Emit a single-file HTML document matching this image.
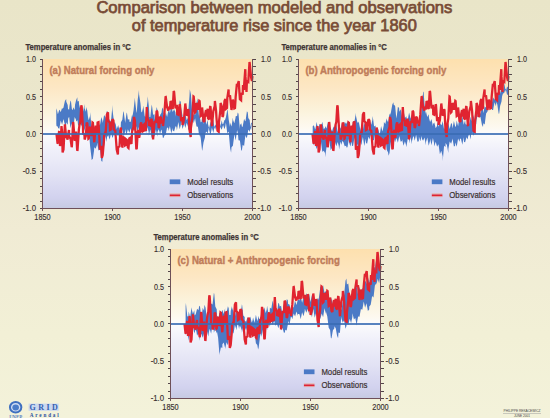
<!DOCTYPE html><html><head><meta charset="utf-8"><style>html,body{margin:0;padding:0;background:#ede9d0;width:550px;height:418px;overflow:hidden}svg{display:block}text{font-family:"Liberation Sans", sans-serif}</style></head><body>
<svg width="550" height="418" viewBox="0 0 550 418">
<defs>
<linearGradient id="bg" x1="0" y1="0" x2="0" y2="1">
<stop offset="0" stop-color="#e9e5c8"/><stop offset="0.3" stop-color="#ebe7cd"/><stop offset="0.55" stop-color="#f0ebd4"/><stop offset="0.8" stop-color="#f2f0d6"/><stop offset="1" stop-color="#f3f2da"/>
</linearGradient>
<linearGradient id="pg" x1="0" y1="0" x2="0" y2="1">
<stop offset="0" stop-color="#fde0ae"/><stop offset="0.19" stop-color="#fde7c4"/><stop offset="0.35" stop-color="#fbf3dc"/><stop offset="0.46" stop-color="#fdf9f0"/><stop offset="0.5" stop-color="#fbfbfc"/><stop offset="0.61" stop-color="#f0f0fa"/><stop offset="0.78" stop-color="#e2e2f4"/><stop offset="0.89" stop-color="#d6d6f0"/><stop offset="0.93" stop-color="#d2d2ee"/><stop offset="1" stop-color="#c6cae2"/>
</linearGradient>
</defs>
<rect width="550" height="418" fill="url(#bg)"/>
<g font-size="16.4" font-weight="normal" fill="#6e4636" stroke="#7e5038" stroke-width="0.75">
<text x="96.4" y="12.5" textLength="356" lengthAdjust="spacingAndGlyphs">Comparison between modeled and observations</text>
<text x="131.8" y="31" textLength="285" lengthAdjust="spacingAndGlyphs">of temperature rise since the year 1860</text>
</g>

<rect x="43" y="59" width="209" height="149" fill="url(#pg)"/>
<polygon points="56.30,110.60 56.50,108.13 57.90,114.26 59.30,109.76 60.00,110.60 60.70,112.18 62.10,107.84 62.50,109.00 63.50,107.54 64.00,105.00 64.90,100.98 66.20,99.00 66.30,101.75 67.70,104.94 68.00,109.00 69.10,109.75 69.50,106.00 70.50,100.58 71.00,101.60 71.90,109.33 72.80,110.00 73.30,107.22 74.70,109.96 75.00,105.00 76.10,100.32 77.30,97.20 77.50,101.47 78.90,101.12 79.00,104.00 80.30,109.41 81.70,107.56 82.60,110.60 83.10,111.53 84.50,104.02 84.50,108.00 85.90,111.86 86.30,107.00 87.30,110.81 88.00,117.00 88.70,120.20 90.00,116.00 90.10,112.12 91.50,126.23 92.50,125.80 92.90,125.43 94.30,130.39 95.20,131.20 95.70,128.69 97.10,131.68 98.50,123.37 98.80,124.00 99.90,125.42 101.30,116.97 102.40,120.50 102.70,123.08 104.10,114.96 105.40,117.00 105.50,118.90 106.90,110.82 108.00,112.40 108.30,118.03 109.70,120.08 109.90,122.00 111.10,120.10 112.50,104.98 112.50,109.70 113.90,120.89 115.20,124.00 115.30,122.13 116.70,129.05 117.90,126.00 118.10,124.94 119.50,130.08 120.60,128.50 120.90,122.21 122.30,119.79 123.30,111.50 123.70,111.87 125.10,122.00 125.10,123.35 126.50,113.62 126.90,112.40 127.90,119.46 129.30,119.26 129.60,122.00 130.70,121.84 132.10,114.60 132.30,117.00 133.50,110.45 134.90,97.44 135.00,99.90 136.30,111.33 136.70,113.00 137.70,99.85 139.00,90.00 139.10,94.56 140.50,103.42 141.20,111.50 141.90,112.60 143.00,108.00 143.30,105.44 144.70,116.13 145.70,117.00 146.10,111.82 147.50,101.31 147.70,96.30 148.90,106.66 149.50,117.00 150.30,116.93 151.70,104.39 152.20,107.10 153.10,114.70 154.50,114.13 154.80,120.00 155.90,113.50 156.60,107.10 157.30,109.32 158.70,121.92 159.30,121.00 160.10,115.02 161.50,112.63 162.00,108.90 162.90,107.46 164.30,118.86 164.70,118.00 165.70,112.27 167.10,117.02 168.30,111.00 168.50,106.58 169.90,113.35 171.30,105.47 171.90,108.90 172.70,111.91 174.10,109.20 175.50,112.50 175.50,116.85 176.90,107.13 178.30,111.42 179.70,100.50 180.80,101.70 181.10,107.66 182.50,115.62 182.60,117.80 183.90,121.39 185.00,116.00 185.30,113.58 186.70,120.13 188.00,117.80 188.10,113.77 189.50,95.74 189.80,89.20 190.90,94.33 192.30,113.90 192.90,116.00 193.70,113.61 195.10,115.02 195.70,110.60 196.50,102.88 197.50,98.00 197.90,105.71 199.00,116.00 199.30,112.41 200.70,122.32 201.50,122.00 202.10,117.30 203.50,121.00 203.50,124.28 204.90,117.76 205.30,118.00 206.30,124.71 207.70,119.79 208.00,124.00 209.10,128.47 210.50,121.86 211.90,124.40 212.00,123.00 213.30,119.85 214.70,129.36 214.90,126.00 216.10,123.95 217.50,127.75 218.70,123.00 218.90,119.26 220.30,127.88 221.70,120.16 222.50,124.00 223.10,124.37 224.50,119.88 225.00,120.00 225.90,117.34 227.30,109.85 227.60,109.60 228.70,119.38 230.00,127.00 230.10,122.56 231.50,126.57 232.90,117.44 233.10,120.00 234.30,123.14 235.50,118.00 235.70,116.17 237.10,115.93 237.70,112.50 238.50,113.71 239.90,129.10 240.00,125.00 241.30,123.26 242.00,127.00 242.70,126.51 244.10,118.82 245.00,121.00 245.50,121.24 246.90,111.23 247.80,112.50 248.30,117.92 249.70,119.89 250.50,129.00 251.10,130.07 252.50,116.98 252.50,120.00 252.50,128.17 252.50,125.00 251.10,122.60 249.70,131.89 249.00,130.50 248.30,129.83 246.90,138.29 245.50,136.00 245.50,133.93 244.10,145.98 242.70,144.85 241.90,150.30 241.30,150.82 239.90,140.61 238.50,140.24 237.90,133.60 237.10,129.88 235.70,140.39 234.30,134.11 234.00,137.40 232.90,145.80 231.50,147.21 231.10,152.70 230.10,147.99 228.70,131.92 228.30,131.70 227.30,133.41 225.90,122.53 225.40,126.00 224.50,129.21 223.10,124.90 221.70,129.86 220.60,127.80 220.30,123.25 218.90,129.93 217.50,122.26 216.80,126.00 216.10,130.35 214.70,125.74 213.30,133.15 213.00,131.70 211.90,127.87 210.50,135.14 209.10,129.80 209.10,126.18 207.70,133.39 206.30,131.42 205.30,133.60 204.90,137.87 203.50,142.52 202.40,149.90 202.10,150.71 200.70,137.98 199.60,133.60 199.30,136.86 197.90,126.85 196.50,126.47 195.70,122.00 195.10,118.26 193.70,123.26 192.30,115.26 192.00,118.00 190.90,136.67 190.70,137.60 189.50,130.24 188.10,129.35 188.00,126.80 186.70,122.72 185.30,127.92 183.90,122.50 183.50,126.00 182.50,129.01 181.10,120.84 180.80,125.00 179.70,129.17 178.30,121.92 176.90,130.55 176.40,126.80 175.50,126.20 174.10,131.38 172.80,130.40 172.70,127.88 171.30,133.54 169.90,125.96 168.50,131.29 168.30,128.60 167.10,127.18 165.70,134.72 164.30,135.47 163.80,137.60 162.90,137.93 161.50,129.41 161.00,130.40 160.10,134.05 158.70,129.30 157.50,132.00 157.30,136.73 155.90,129.62 154.50,136.68 153.10,131.12 153.00,135.80 151.70,138.03 150.30,129.45 148.90,135.66 148.60,132.00 147.50,126.94 146.10,133.22 145.00,128.00 144.70,125.87 143.30,131.09 141.90,124.74 140.50,133.52 140.00,130.00 139.10,126.41 137.70,132.02 136.30,126.14 135.00,130.00 134.90,130.94 133.50,129.21 132.10,134.29 130.70,128.31 130.00,131.00 129.30,132.64 127.90,129.16 126.50,134.95 125.10,128.94 125.00,132.00 123.70,136.73 122.30,129.23 120.90,138.40 120.00,135.00 119.50,133.12 118.10,136.50 116.70,133.57 115.30,137.05 115.00,136.00 113.90,134.17 112.50,138.09 111.10,133.60 110.00,138.00 109.70,139.68 108.30,135.27 107.00,137.00 106.90,141.94 105.50,135.94 104.10,146.77 104.00,144.00 102.70,155.18 102.40,161.70 101.30,160.92 99.90,147.45 99.50,150.00 98.50,150.41 97.10,142.48 97.00,145.00 95.70,148.66 94.30,147.21 94.00,151.00 92.90,158.71 91.60,159.90 91.50,157.74 90.10,146.25 89.60,140.00 88.70,134.91 87.50,133.00 87.30,134.79 85.90,125.75 85.00,128.00 84.50,131.15 83.10,124.01 82.00,124.00 81.70,126.16 80.30,123.13 78.90,125.70 78.00,125.00 77.50,120.36 76.10,121.45 76.00,119.70 74.70,116.93 73.30,127.01 73.00,123.00 71.90,123.38 71.00,126.00 70.50,128.34 69.10,116.67 68.20,118.40 67.70,124.66 66.30,122.21 66.00,126.00 64.90,125.06 63.50,119.09 63.00,121.00 62.10,124.69 60.70,120.38 60.00,125.00 59.30,128.71 58.00,128.00 57.90,126.85 56.50,126.02 56.30,124.00" fill="#4b7ac6"/>
<polyline points="56.50,134.00 57.50,143.00 57.90,143.48 59.00,132.00 59.30,132.08 60.00,146.00 60.70,142.24 61.50,126.00 62.10,132.36 62.60,152.50 63.50,149.62 64.90,124.40 66.30,138.12 66.50,136.00 67.60,139.80 67.70,136.56 69.00,130.00 69.10,135.91 70.00,138.00 70.50,138.25 71.70,147.00 71.90,146.58 73.10,122.10 73.30,122.78 74.70,140.64 75.00,140.00 76.00,132.00 76.10,131.50 77.20,150.70 77.50,150.25 78.90,129.35 79.50,125.00 80.30,122.13 81.30,105.30 81.70,106.73 83.00,128.00 83.10,133.66 84.50,134.71 84.60,139.50 85.90,135.81 86.70,122.60 87.30,123.40 88.40,138.60 88.70,138.35 90.00,127.00 90.10,126.82 91.50,136.00 92.50,122.60 92.90,122.92 94.20,141.90 94.30,142.11 95.70,125.56 96.00,128.00 97.10,132.67 97.60,122.60 98.50,122.20 99.50,140.00 99.90,149.77 101.30,145.93 101.80,158.00 102.70,154.93 104.00,140.00 104.10,134.77 105.50,132.00 105.50,134.81 106.90,114.51 108.00,112.40 108.30,120.92 109.70,122.77 110.00,130.00 111.10,129.29 111.50,124.00 112.50,119.15 113.40,120.50 113.90,129.55 115.30,130.77 116.00,140.00 116.70,149.47 117.90,154.50 118.10,147.29 119.50,146.44 120.60,127.60 120.90,128.40 122.30,147.46 122.40,147.30 123.70,137.51 124.50,138.00 125.10,145.30 125.50,145.00 126.50,139.60 127.00,140.00 127.90,147.40 128.50,148.00 129.30,138.47 130.00,138.00 130.70,143.11 131.50,143.00 132.10,131.34 133.50,126.71 134.00,116.90 134.90,120.76 136.30,148.63 136.70,149.10 137.70,131.73 138.50,130.00 139.10,137.87 139.50,136.00 140.50,124.30 141.20,122.30 141.90,132.29 143.00,131.00 143.30,125.16 144.50,124.00 144.70,130.43 146.00,130.00 146.10,122.79 146.80,107.10 147.50,117.93 148.90,121.58 149.00,125.00 150.30,125.55 151.00,120.00 151.70,118.84 153.10,139.30 154.50,121.10 155.90,122.91 156.60,110.70 157.30,111.86 158.70,128.01 159.30,126.80 160.10,116.52 161.00,118.00 161.50,122.64 162.90,122.92 163.00,126.00 164.30,114.66 165.60,96.30 165.70,96.42 167.10,107.16 168.30,110.70 168.50,106.86 169.90,109.53 170.50,102.00 171.30,101.76 172.00,108.00 172.70,108.83 173.70,91.00 174.10,91.89 175.50,108.42 176.90,104.84 177.30,114.30 178.30,114.80 179.70,104.33 180.00,105.00 181.10,121.20 182.50,117.24 182.60,125.00 183.90,120.02 185.30,103.50 186.70,115.68 187.00,115.00 188.10,109.19 188.50,110.00 189.50,129.86 190.70,137.00 190.90,127.72 192.30,118.47 193.50,96.50 193.70,96.65 195.10,112.40 195.50,112.00 196.50,103.20 197.00,104.00 197.90,109.95 199.30,100.78 199.60,101.00 200.70,116.03 202.00,115.00 202.10,107.48 203.50,120.99 204.40,122.00 204.90,115.46 206.00,110.00 206.30,116.63 207.70,108.67 208.00,118.00 209.10,119.53 210.10,106.80 210.50,106.32 211.90,125.80 212.00,126.00 213.30,111.15 214.70,106.09 214.90,101.00 216.10,111.06 216.50,118.00 217.50,130.68 218.70,131.70 218.90,122.25 220.30,110.68 220.60,103.00 221.70,106.17 222.50,117.00 223.10,115.80 224.50,101.07 225.40,99.10 225.90,108.90 227.00,108.00 227.30,98.03 228.60,89.50 228.70,95.57 230.10,96.09 231.50,110.00 232.90,99.76 233.00,100.00 234.30,108.40 235.00,108.00 235.70,96.42 236.90,83.80 237.10,86.41 238.50,81.76 238.70,81.10 239.90,99.23 241.10,100.30 241.30,92.92 242.70,94.62 243.00,85.00 244.00,90.00 244.10,85.08 245.30,69.20 245.50,76.90 246.50,91.90 246.90,81.15 248.30,82.07 249.50,62.00 249.70,62.93 251.10,77.36 251.90,81.10 252.50,76.00" fill="none" stroke="#e02430" stroke-width="2.3" stroke-linejoin="miter" stroke-miterlimit="2.5"/>
<rect x="43" y="133" width="209" height="2" fill="#3a6cb4" opacity="0.85"/>
<rect x="42" y="59" width="1" height="152" fill="#6e5058"/>
<rect x="252" y="59" width="1" height="152" fill="#6e5058"/>
<rect x="40" y="208" width="213" height="1" fill="#6e5058"/>
<rect x="40" y="59" width="2" height="1" fill="#54464a"/>
<rect x="253" y="59" width="3" height="1" fill="#54464a"/>
<rect x="40" y="66" width="2" height="1" fill="#54464a"/>
<rect x="253" y="66" width="3" height="1" fill="#54464a"/>
<rect x="40" y="74" width="2" height="1" fill="#54464a"/>
<rect x="253" y="74" width="3" height="1" fill="#54464a"/>
<rect x="40" y="81" width="2" height="1" fill="#54464a"/>
<rect x="253" y="81" width="3" height="1" fill="#54464a"/>
<rect x="40" y="89" width="2" height="1" fill="#54464a"/>
<rect x="253" y="89" width="3" height="1" fill="#54464a"/>
<rect x="40" y="96" width="2" height="1" fill="#54464a"/>
<rect x="253" y="96" width="3" height="1" fill="#54464a"/>
<rect x="40" y="104" width="2" height="1" fill="#54464a"/>
<rect x="253" y="104" width="3" height="1" fill="#54464a"/>
<rect x="40" y="111" width="2" height="1" fill="#54464a"/>
<rect x="253" y="111" width="3" height="1" fill="#54464a"/>
<rect x="40" y="119" width="2" height="1" fill="#54464a"/>
<rect x="253" y="119" width="3" height="1" fill="#54464a"/>
<rect x="40" y="126" width="2" height="1" fill="#54464a"/>
<rect x="253" y="126" width="3" height="1" fill="#54464a"/>
<rect x="40" y="133" width="2" height="1" fill="#54464a"/>
<rect x="253" y="133" width="3" height="1" fill="#54464a"/>
<rect x="40" y="141" width="2" height="1" fill="#54464a"/>
<rect x="253" y="141" width="3" height="1" fill="#54464a"/>
<rect x="40" y="148" width="2" height="1" fill="#54464a"/>
<rect x="253" y="148" width="3" height="1" fill="#54464a"/>
<rect x="40" y="156" width="2" height="1" fill="#54464a"/>
<rect x="253" y="156" width="3" height="1" fill="#54464a"/>
<rect x="40" y="163" width="2" height="1" fill="#54464a"/>
<rect x="253" y="163" width="3" height="1" fill="#54464a"/>
<rect x="40" y="171" width="2" height="1" fill="#54464a"/>
<rect x="253" y="171" width="3" height="1" fill="#54464a"/>
<rect x="40" y="178" width="2" height="1" fill="#54464a"/>
<rect x="253" y="178" width="3" height="1" fill="#54464a"/>
<rect x="40" y="186" width="2" height="1" fill="#54464a"/>
<rect x="253" y="186" width="3" height="1" fill="#54464a"/>
<rect x="40" y="193" width="2" height="1" fill="#54464a"/>
<rect x="253" y="193" width="3" height="1" fill="#54464a"/>
<rect x="40" y="201" width="2" height="1" fill="#54464a"/>
<rect x="253" y="201" width="3" height="1" fill="#54464a"/>
<rect x="40" y="208" width="2" height="1" fill="#54464a"/>
<rect x="253" y="208" width="3" height="1" fill="#54464a"/>
<text x="36.1" y="62.4" text-anchor="end" font-size="8.9" fill="#3a3030" stroke="#3a3030" stroke-width="0.15" textLength="10.0" lengthAdjust="spacingAndGlyphs">1.0</text>
<text x="271" y="62.4" text-anchor="end" font-size="8.9" fill="#3a3030" stroke="#3a3030" stroke-width="0.15" textLength="10.0" lengthAdjust="spacingAndGlyphs">1.0</text>
<text x="36.1" y="99.7" text-anchor="end" font-size="8.9" fill="#3a3030" stroke="#3a3030" stroke-width="0.15" textLength="10.0" lengthAdjust="spacingAndGlyphs">0.5</text>
<text x="271" y="99.7" text-anchor="end" font-size="8.9" fill="#3a3030" stroke="#3a3030" stroke-width="0.15" textLength="10.0" lengthAdjust="spacingAndGlyphs">0.5</text>
<text x="36.1" y="136.9" text-anchor="end" font-size="8.9" fill="#3a3030" stroke="#3a3030" stroke-width="0.15" textLength="10.0" lengthAdjust="spacingAndGlyphs">0.0</text>
<text x="271" y="136.9" text-anchor="end" font-size="8.9" fill="#3a3030" stroke="#3a3030" stroke-width="0.15" textLength="10.0" lengthAdjust="spacingAndGlyphs">0.0</text>
<text x="36.1" y="174.2" text-anchor="end" font-size="8.9" fill="#3a3030" stroke="#3a3030" stroke-width="0.15" textLength="13.4" lengthAdjust="spacingAndGlyphs">-0.5</text>
<text x="271" y="174.2" text-anchor="end" font-size="8.9" fill="#3a3030" stroke="#3a3030" stroke-width="0.15" textLength="13.4" lengthAdjust="spacingAndGlyphs">-0.5</text>
<text x="36.1" y="211.4" text-anchor="end" font-size="8.9" fill="#3a3030" stroke="#3a3030" stroke-width="0.15" textLength="13.4" lengthAdjust="spacingAndGlyphs">-1.0</text>
<text x="271" y="211.4" text-anchor="end" font-size="8.9" fill="#3a3030" stroke="#3a3030" stroke-width="0.15" textLength="13.4" lengthAdjust="spacingAndGlyphs">-1.0</text>
<rect x="42" y="209" width="1" height="2" fill="#6e5058"/>
<text x="42.5" y="219.8" text-anchor="middle" font-size="8.9" fill="#3a3030" stroke="#3a3030" stroke-width="0.15" textLength="16.4" lengthAdjust="spacingAndGlyphs">1850</text>
<rect x="112" y="209" width="1" height="2" fill="#6e5058"/>
<text x="112.5" y="219.8" text-anchor="middle" font-size="8.9" fill="#3a3030" stroke="#3a3030" stroke-width="0.15" textLength="16.4" lengthAdjust="spacingAndGlyphs">1900</text>
<rect x="182" y="209" width="1" height="2" fill="#6e5058"/>
<text x="182.5" y="219.8" text-anchor="middle" font-size="8.9" fill="#3a3030" stroke="#3a3030" stroke-width="0.15" textLength="16.4" lengthAdjust="spacingAndGlyphs">1950</text>
<rect x="252" y="209" width="1" height="2" fill="#6e5058"/>
<text x="252.5" y="219.8" text-anchor="middle" font-size="8.9" fill="#3a3030" stroke="#3a3030" stroke-width="0.15" textLength="16.4" lengthAdjust="spacingAndGlyphs">2000</text>
<text x="25.4" y="49.8" font-size="8.7" font-weight="bold" fill="#3e3434" stroke="#3e3434" stroke-width="0.25" textLength="105.5" lengthAdjust="spacingAndGlyphs">Temperature anomalies in °C</text>
<text x="49.4" y="73.5" font-size="10.5" font-weight="bold" fill="#c07c5a" stroke="#c07c5a" stroke-width="0.4" textLength="105" lengthAdjust="spacingAndGlyphs">(a) Natural forcing only</text>
<rect x="169.7" y="179.4" width="10.6" height="4.8" fill="#4b7ac6"/>
<rect x="169.7" y="194.4" width="10.6" height="2.0" fill="#e02430"/>
<rect x="169.7" y="193.0" width="10.6" height="1" fill="#f0a890" opacity="0.5"/>
<rect x="169.7" y="196.20000000000002" width="10.6" height="1" fill="#f0b8a8" opacity="0.5"/>
<text x="187.2" y="184.8" font-size="9.4" fill="#3a3030" stroke="#3a3030" stroke-width="0.2" textLength="46" lengthAdjust="spacingAndGlyphs">Model results</text>
<text x="187.2" y="198.1" font-size="9.4" fill="#3a3030" stroke="#3a3030" stroke-width="0.2" textLength="46" lengthAdjust="spacingAndGlyphs">Observations</text>
<rect x="299" y="59" width="209" height="149" fill="url(#pg)"/>
<polygon points="312.70,126.30 313.90,125.16 315.00,129.00 315.30,129.19 316.70,121.76 317.00,124.00 318.10,128.20 319.00,127.00 319.50,123.85 320.90,126.60 322.00,123.00 322.30,121.86 323.70,129.10 325.00,128.00 325.10,125.89 326.50,128.39 327.90,121.83 328.00,125.00 329.30,129.65 330.70,127.23 331.00,129.00 332.10,131.30 333.50,126.19 334.90,130.97 335.00,127.00 336.30,124.11 337.70,132.48 338.00,130.00 339.10,124.74 340.50,128.65 341.00,127.00 341.90,123.58 343.30,126.56 344.00,125.00 344.70,121.78 346.10,124.12 347.30,121.70 347.50,120.83 348.90,128.61 350.00,128.00 350.30,125.77 351.70,126.43 353.00,123.00 353.10,121.03 354.50,121.28 355.90,112.73 355.90,115.40 357.30,122.10 358.00,123.00 358.70,121.40 360.00,128.00 360.10,130.73 361.50,125.18 362.00,128.00 362.90,129.68 364.30,122.32 365.70,128.34 366.00,125.00 367.10,124.26 368.50,130.25 369.00,127.00 369.90,120.37 371.30,124.66 372.40,119.40 372.70,115.96 374.10,126.58 375.50,125.46 376.00,130.00 376.90,133.12 378.30,128.98 379.00,132.00 379.70,134.89 381.10,126.09 382.50,131.62 383.80,125.20 383.90,122.06 385.30,123.92 386.70,118.21 387.00,120.00 388.10,122.34 389.50,113.40 390.00,115.00 390.90,112.56 392.30,104.53 393.40,102.20 393.70,104.78 395.10,105.83 396.00,115.00 396.50,118.52 397.90,106.73 399.10,108.00 399.30,111.82 400.70,109.13 402.00,117.00 402.10,118.30 403.50,112.01 404.00,113.00 404.90,117.99 406.30,116.13 407.00,120.00 407.70,120.09 409.10,112.51 410.00,116.00 410.50,118.86 411.90,114.28 413.30,120.01 414.00,118.30 414.70,117.44 416.10,123.65 417.50,119.19 418.00,124.00 418.90,125.33 420.30,115.54 421.00,116.00 421.70,110.29 423.10,92.25 423.60,91.50 424.50,104.05 425.50,114.00 425.90,111.33 427.30,117.00 428.70,114.22 429.00,118.00 430.10,122.01 431.50,118.96 432.90,126.32 433.00,124.00 434.30,122.43 435.70,128.35 437.00,126.00 437.10,121.31 438.50,126.68 439.90,122.77 441.30,125.28 442.00,124.00 442.70,120.97 444.10,129.52 445.50,125.82 446.00,128.00 446.90,129.87 448.30,123.10 449.70,128.97 451.10,123.09 452.00,124.00 452.50,128.55 453.90,121.06 455.30,127.02 456.00,126.00 456.70,120.60 458.10,126.30 459.50,116.24 460.90,120.86 461.80,116.40 462.30,115.72 463.70,124.74 465.10,120.02 465.50,124.00 466.50,125.05 467.90,119.38 469.00,120.00 469.30,124.30 470.70,116.83 472.10,121.72 473.50,114.97 474.00,118.00 474.90,121.00 476.30,111.96 477.70,115.09 479.00,112.00 479.10,108.79 480.50,114.01 481.90,107.56 483.00,110.00 483.30,113.22 484.70,106.16 486.10,107.85 487.50,103.33 488.00,104.00 488.90,105.11 490.30,101.08 491.70,104.02 492.50,100.00 493.10,97.49 494.50,99.86 495.90,95.87 496.00,97.00 497.30,97.33 498.70,91.94 500.00,92.00 500.10,93.83 501.50,87.32 502.90,91.15 504.00,86.70 504.30,82.63 505.70,91.91 507.10,86.56 508.50,88.00 508.50,89.75 508.50,96.00 508.50,93.92 507.10,94.97 505.70,88.42 505.00,90.50 504.30,92.78 502.90,93.83 502.10,96.30 501.50,101.39 500.10,106.01 499.20,113.50 498.70,113.68 497.30,104.59 496.40,102.00 495.90,106.33 494.50,102.16 493.10,109.98 492.00,110.00 491.70,106.41 490.30,109.17 488.90,101.57 488.70,105.80 487.50,111.51 486.10,113.59 484.70,124.53 483.30,123.37 483.00,126.90 481.90,124.71 480.50,116.94 479.10,117.39 479.10,113.50 477.70,114.85 476.50,120.00 476.30,124.05 474.90,126.22 474.40,132.60 473.50,135.72 472.10,132.59 471.00,135.00 470.70,139.51 469.30,133.71 468.00,137.00 467.90,139.44 466.50,137.21 465.10,142.23 464.00,142.00 463.70,137.36 462.30,144.70 460.90,138.56 460.00,139.00 459.50,141.76 458.10,138.47 456.70,146.85 455.30,142.40 455.00,146.00 453.90,146.52 452.50,138.47 452.00,141.00 451.10,143.84 449.70,141.60 448.40,148.90 448.30,153.06 446.90,144.89 445.60,143.00 445.50,147.01 444.10,145.83 442.70,161.15 442.70,156.60 441.30,150.71 439.90,154.28 438.50,144.25 438.00,145.00 437.10,146.64 435.70,141.75 434.30,146.42 434.00,143.00 432.90,137.99 431.50,145.22 430.10,138.46 430.00,141.00 428.70,145.86 427.30,137.45 426.00,142.00 425.90,145.26 424.50,137.43 423.10,140.79 422.00,139.00 421.70,136.03 420.30,141.30 418.90,136.59 418.80,141.20 417.50,141.83 416.10,134.74 414.70,140.68 414.00,137.40 413.30,136.08 412.00,141.00 411.90,144.14 410.50,136.79 409.10,143.41 409.00,139.00 407.70,138.95 406.30,147.23 406.00,145.00 404.90,141.13 403.50,145.86 402.10,139.17 402.00,141.00 400.70,141.85 399.30,136.11 397.90,142.72 396.50,138.14 396.00,139.00 395.10,142.19 393.70,137.95 392.30,143.02 391.00,143.00 390.90,141.83 389.50,153.02 388.60,155.80 388.10,152.39 386.70,149.78 386.00,143.00 385.30,138.82 383.90,142.77 383.00,141.00 382.50,139.65 381.10,142.24 379.70,136.22 379.00,138.00 378.30,140.94 376.90,136.34 375.50,141.88 374.10,135.35 374.00,140.00 372.70,140.56 371.30,133.23 370.00,137.00 369.90,139.56 368.50,136.64 367.10,143.78 366.00,143.00 365.70,138.78 364.30,146.00 362.90,136.88 362.00,141.00 361.50,145.19 360.10,139.75 358.70,149.09 358.00,148.20 357.30,144.16 355.90,146.05 355.00,140.00 354.50,137.29 353.10,145.78 352.00,146.00 351.70,141.56 350.30,146.42 349.00,142.00 348.90,138.75 347.50,147.35 346.50,147.50 346.10,145.63 344.70,146.27 343.30,141.96 342.00,141.00 341.90,144.99 340.50,141.87 339.10,149.38 338.80,146.00 337.70,142.10 336.30,146.37 335.00,142.00 334.90,139.32 333.50,145.85 332.10,143.62 332.00,148.00 330.70,150.37 329.30,140.28 329.00,143.00 327.90,147.27 327.10,147.00 326.50,147.34 325.10,157.31 325.00,153.00 323.70,150.80 323.20,151.30 322.30,151.87 321.00,142.00 320.90,137.91 319.50,148.19 319.30,148.00 318.10,144.70 316.70,149.08 316.00,147.00 315.30,142.20 313.90,145.26 312.70,142.00" fill="#4b7ac6"/>
<polyline points="312.50,134.00 313.50,143.00 313.90,143.48 315.00,132.00 315.30,132.08 316.00,146.00 316.70,142.24 317.50,126.00 318.10,132.36 318.60,152.50 319.50,149.62 320.90,124.40 322.30,138.12 322.50,136.00 323.60,139.80 323.70,136.56 325.00,130.00 325.10,135.91 326.00,138.00 326.50,138.25 327.70,147.00 327.90,146.58 329.10,122.10 329.30,122.78 330.70,140.64 331.00,140.00 332.00,132.00 332.10,131.50 333.20,150.70 333.50,150.25 334.90,129.35 335.50,125.00 336.30,122.13 337.30,105.30 337.70,106.73 339.00,128.00 339.10,133.66 340.50,134.71 340.60,139.50 341.90,135.81 342.70,122.60 343.30,123.40 344.40,138.60 344.70,138.35 346.00,127.00 346.10,126.82 347.50,136.00 348.50,122.60 348.90,122.92 350.20,141.90 350.30,142.11 351.70,125.56 352.00,128.00 353.10,132.67 353.60,122.60 354.50,122.20 355.50,140.00 355.90,149.77 357.30,145.93 357.80,158.00 358.70,154.93 360.00,140.00 360.10,134.77 361.50,132.00 361.50,134.81 362.90,114.51 364.00,112.40 364.30,120.92 365.70,122.77 366.00,130.00 367.10,129.29 367.50,124.00 368.50,119.15 369.40,120.50 369.90,129.55 371.30,130.77 372.00,140.00 372.70,149.47 373.90,154.50 374.10,147.29 375.50,146.44 376.60,127.60 376.90,128.40 378.30,147.46 378.40,147.30 379.70,137.51 380.50,138.00 381.10,145.30 381.50,145.00 382.50,139.60 383.00,140.00 383.90,147.40 384.50,148.00 385.30,138.47 386.00,138.00 386.70,143.11 387.50,143.00 388.10,131.34 389.50,126.71 390.00,116.90 390.90,120.76 392.30,148.63 392.70,149.10 393.70,131.73 394.50,130.00 395.10,137.87 395.50,136.00 396.50,124.30 397.20,122.30 397.90,132.29 399.00,131.00 399.30,125.16 400.50,124.00 400.70,130.43 402.00,130.00 402.10,122.79 402.80,107.10 403.50,117.93 404.90,121.58 405.00,125.00 406.30,125.55 407.00,120.00 407.70,118.84 409.10,139.30 410.50,121.10 411.90,122.91 412.60,110.70 413.30,111.86 414.70,128.01 415.30,126.80 416.10,116.52 417.00,118.00 417.50,122.64 418.90,122.92 419.00,126.00 420.30,114.66 421.60,96.30 421.70,96.42 423.10,107.16 424.30,110.70 424.50,106.86 425.90,109.53 426.50,102.00 427.30,101.76 428.00,108.00 428.70,108.83 429.70,91.00 430.10,91.89 431.50,108.42 432.90,104.84 433.30,114.30 434.30,114.80 435.70,104.33 436.00,105.00 437.10,121.20 438.50,117.24 438.60,125.00 439.90,120.02 441.30,103.50 442.70,115.68 443.00,115.00 444.10,109.19 444.50,110.00 445.50,129.86 446.70,137.00 446.90,127.72 448.30,118.47 449.50,96.50 449.70,96.65 451.10,112.40 451.50,112.00 452.50,103.20 453.00,104.00 453.90,109.95 455.30,100.78 455.60,101.00 456.70,116.03 458.00,115.00 458.10,107.48 459.50,120.99 460.40,122.00 460.90,115.46 462.00,110.00 462.30,116.63 463.70,108.67 464.00,118.00 465.10,119.53 466.10,106.80 466.50,106.32 467.90,125.80 468.00,126.00 469.30,111.15 470.70,106.09 470.90,101.00 472.10,111.06 472.50,118.00 473.50,130.68 474.70,131.70 474.90,122.25 476.30,110.68 476.60,103.00 477.70,106.17 478.50,117.00 479.10,115.80 480.50,101.07 481.40,99.10 481.90,108.90 483.00,108.00 483.30,98.03 484.60,89.50 484.70,95.57 486.10,96.09 487.50,110.00 488.90,99.76 489.00,100.00 490.30,108.40 491.00,108.00 491.70,96.42 492.90,83.80 493.10,86.41 494.50,81.76 494.70,81.10 495.90,99.23 497.10,100.30 497.30,92.92 498.70,94.62 499.00,85.00 500.00,90.00 500.10,85.08 501.30,69.20 501.50,76.90 502.50,91.90 502.90,81.15 504.30,82.07 505.50,62.00 505.70,62.93 507.10,77.36 507.90,81.10 508.50,76.00" fill="none" stroke="#e02430" stroke-width="2.3" stroke-linejoin="miter" stroke-miterlimit="2.5"/>
<rect x="299" y="133" width="209" height="2" fill="#3a6cb4" opacity="0.85"/>
<rect x="298" y="59" width="1" height="152" fill="#6e5058"/>
<rect x="508" y="59" width="1" height="152" fill="#6e5058"/>
<rect x="296" y="208" width="213" height="1" fill="#6e5058"/>
<rect x="296" y="59" width="2" height="1" fill="#54464a"/>
<rect x="509" y="59" width="3" height="1" fill="#54464a"/>
<rect x="296" y="66" width="2" height="1" fill="#54464a"/>
<rect x="509" y="66" width="3" height="1" fill="#54464a"/>
<rect x="296" y="74" width="2" height="1" fill="#54464a"/>
<rect x="509" y="74" width="3" height="1" fill="#54464a"/>
<rect x="296" y="81" width="2" height="1" fill="#54464a"/>
<rect x="509" y="81" width="3" height="1" fill="#54464a"/>
<rect x="296" y="89" width="2" height="1" fill="#54464a"/>
<rect x="509" y="89" width="3" height="1" fill="#54464a"/>
<rect x="296" y="96" width="2" height="1" fill="#54464a"/>
<rect x="509" y="96" width="3" height="1" fill="#54464a"/>
<rect x="296" y="104" width="2" height="1" fill="#54464a"/>
<rect x="509" y="104" width="3" height="1" fill="#54464a"/>
<rect x="296" y="111" width="2" height="1" fill="#54464a"/>
<rect x="509" y="111" width="3" height="1" fill="#54464a"/>
<rect x="296" y="119" width="2" height="1" fill="#54464a"/>
<rect x="509" y="119" width="3" height="1" fill="#54464a"/>
<rect x="296" y="126" width="2" height="1" fill="#54464a"/>
<rect x="509" y="126" width="3" height="1" fill="#54464a"/>
<rect x="296" y="133" width="2" height="1" fill="#54464a"/>
<rect x="509" y="133" width="3" height="1" fill="#54464a"/>
<rect x="296" y="141" width="2" height="1" fill="#54464a"/>
<rect x="509" y="141" width="3" height="1" fill="#54464a"/>
<rect x="296" y="148" width="2" height="1" fill="#54464a"/>
<rect x="509" y="148" width="3" height="1" fill="#54464a"/>
<rect x="296" y="156" width="2" height="1" fill="#54464a"/>
<rect x="509" y="156" width="3" height="1" fill="#54464a"/>
<rect x="296" y="163" width="2" height="1" fill="#54464a"/>
<rect x="509" y="163" width="3" height="1" fill="#54464a"/>
<rect x="296" y="171" width="2" height="1" fill="#54464a"/>
<rect x="509" y="171" width="3" height="1" fill="#54464a"/>
<rect x="296" y="178" width="2" height="1" fill="#54464a"/>
<rect x="509" y="178" width="3" height="1" fill="#54464a"/>
<rect x="296" y="186" width="2" height="1" fill="#54464a"/>
<rect x="509" y="186" width="3" height="1" fill="#54464a"/>
<rect x="296" y="193" width="2" height="1" fill="#54464a"/>
<rect x="509" y="193" width="3" height="1" fill="#54464a"/>
<rect x="296" y="201" width="2" height="1" fill="#54464a"/>
<rect x="509" y="201" width="3" height="1" fill="#54464a"/>
<rect x="296" y="208" width="2" height="1" fill="#54464a"/>
<rect x="509" y="208" width="3" height="1" fill="#54464a"/>
<text x="292.1" y="62.4" text-anchor="end" font-size="8.9" fill="#3a3030" stroke="#3a3030" stroke-width="0.15" textLength="10.0" lengthAdjust="spacingAndGlyphs">1.0</text>
<text x="527" y="62.4" text-anchor="end" font-size="8.9" fill="#3a3030" stroke="#3a3030" stroke-width="0.15" textLength="10.0" lengthAdjust="spacingAndGlyphs">1.0</text>
<text x="292.1" y="99.7" text-anchor="end" font-size="8.9" fill="#3a3030" stroke="#3a3030" stroke-width="0.15" textLength="10.0" lengthAdjust="spacingAndGlyphs">0.5</text>
<text x="527" y="99.7" text-anchor="end" font-size="8.9" fill="#3a3030" stroke="#3a3030" stroke-width="0.15" textLength="10.0" lengthAdjust="spacingAndGlyphs">0.5</text>
<text x="292.1" y="136.9" text-anchor="end" font-size="8.9" fill="#3a3030" stroke="#3a3030" stroke-width="0.15" textLength="10.0" lengthAdjust="spacingAndGlyphs">0.0</text>
<text x="527" y="136.9" text-anchor="end" font-size="8.9" fill="#3a3030" stroke="#3a3030" stroke-width="0.15" textLength="10.0" lengthAdjust="spacingAndGlyphs">0.0</text>
<text x="292.1" y="174.2" text-anchor="end" font-size="8.9" fill="#3a3030" stroke="#3a3030" stroke-width="0.15" textLength="13.4" lengthAdjust="spacingAndGlyphs">-0.5</text>
<text x="527" y="174.2" text-anchor="end" font-size="8.9" fill="#3a3030" stroke="#3a3030" stroke-width="0.15" textLength="13.4" lengthAdjust="spacingAndGlyphs">-0.5</text>
<text x="292.1" y="211.4" text-anchor="end" font-size="8.9" fill="#3a3030" stroke="#3a3030" stroke-width="0.15" textLength="13.4" lengthAdjust="spacingAndGlyphs">-1.0</text>
<text x="527" y="211.4" text-anchor="end" font-size="8.9" fill="#3a3030" stroke="#3a3030" stroke-width="0.15" textLength="13.4" lengthAdjust="spacingAndGlyphs">-1.0</text>
<rect x="298" y="209" width="1" height="2" fill="#6e5058"/>
<text x="298.5" y="219.8" text-anchor="middle" font-size="8.9" fill="#3a3030" stroke="#3a3030" stroke-width="0.15" textLength="16.4" lengthAdjust="spacingAndGlyphs">1850</text>
<rect x="368" y="209" width="1" height="2" fill="#6e5058"/>
<text x="368.5" y="219.8" text-anchor="middle" font-size="8.9" fill="#3a3030" stroke="#3a3030" stroke-width="0.15" textLength="16.4" lengthAdjust="spacingAndGlyphs">1900</text>
<rect x="438" y="209" width="1" height="2" fill="#6e5058"/>
<text x="438.5" y="219.8" text-anchor="middle" font-size="8.9" fill="#3a3030" stroke="#3a3030" stroke-width="0.15" textLength="16.4" lengthAdjust="spacingAndGlyphs">1950</text>
<rect x="508" y="209" width="1" height="2" fill="#6e5058"/>
<text x="508.5" y="219.8" text-anchor="middle" font-size="8.9" fill="#3a3030" stroke="#3a3030" stroke-width="0.15" textLength="16.4" lengthAdjust="spacingAndGlyphs">2000</text>
<text x="281.4" y="49.8" font-size="8.7" font-weight="bold" fill="#3e3434" stroke="#3e3434" stroke-width="0.25" textLength="105.5" lengthAdjust="spacingAndGlyphs">Temperature anomalies in °C</text>
<text x="305.4" y="73.5" font-size="10.5" font-weight="bold" fill="#c07c5a" stroke="#c07c5a" stroke-width="0.4" textLength="141" lengthAdjust="spacingAndGlyphs">(b) Anthropogenic forcing only</text>
<rect x="431.8" y="179.4" width="10.6" height="4.8" fill="#4b7ac6"/>
<rect x="431.8" y="194.4" width="10.6" height="2.0" fill="#e02430"/>
<rect x="431.8" y="193.0" width="10.6" height="1" fill="#f0a890" opacity="0.5"/>
<rect x="431.8" y="196.20000000000002" width="10.6" height="1" fill="#f0b8a8" opacity="0.5"/>
<text x="449.3" y="184.8" font-size="9.4" fill="#3a3030" stroke="#3a3030" stroke-width="0.2" textLength="46" lengthAdjust="spacingAndGlyphs">Model results</text>
<text x="449.3" y="198.1" font-size="9.4" fill="#3a3030" stroke="#3a3030" stroke-width="0.2" textLength="46" lengthAdjust="spacingAndGlyphs">Observations</text>
<rect x="171" y="249" width="209" height="149" fill="url(#pg)"/>
<polygon points="185.60,306.50 185.90,303.04 187.30,316.10 188.30,317.00 188.70,311.58 190.10,317.19 191.50,307.29 191.90,310.10 192.90,313.79 194.30,310.23 194.60,315.50 195.70,314.16 197.10,308.67 198.50,310.24 199.10,306.50 199.90,305.65 201.30,316.49 201.70,316.40 202.70,307.84 204.10,310.69 204.40,304.70 205.50,307.62 206.90,317.88 207.10,315.50 208.30,311.52 209.70,311.13 210.00,308.00 211.10,303.41 212.50,304.45 213.90,292.75 214.30,294.00 215.30,306.52 216.70,309.19 217.00,315.50 218.10,319.19 219.50,312.73 220.60,313.70 220.90,314.72 222.30,309.86 223.70,314.03 225.10,308.29 225.10,312.00 226.50,313.00 227.90,306.21 228.70,308.30 229.30,315.05 230.50,315.00 230.70,310.91 232.00,306.00 232.10,307.76 233.50,312.04 234.00,316.00 234.90,316.73 236.00,311.00 236.30,308.64 237.70,317.40 238.50,315.50 239.10,312.04 240.50,312.00 240.50,315.39 241.90,304.25 242.20,305.50 243.30,315.52 244.70,316.95 244.70,320.80 246.10,321.68 247.50,317.16 248.50,319.00 248.90,322.02 250.30,316.39 251.70,322.48 252.40,321.00 253.10,317.49 254.50,322.79 255.20,319.00 255.90,314.65 257.30,321.26 258.70,315.66 259.00,319.00 260.10,318.90 261.50,312.36 262.90,313.00 262.90,314.56 264.30,307.23 265.70,312.88 266.70,309.40 267.10,305.80 268.50,314.11 269.60,313.00 269.90,307.41 271.30,308.63 272.40,301.80 272.70,300.40 274.10,309.07 275.50,305.28 276.30,311.40 276.90,313.97 278.30,302.72 279.10,303.70 279.70,306.46 281.10,305.83 282.00,311.40 282.50,312.21 283.90,303.92 285.30,309.20 286.70,299.22 287.80,299.90 288.10,304.12 289.50,304.57 290.60,309.40 290.90,311.88 292.30,305.36 293.70,307.74 295.10,300.01 295.40,301.80 296.50,304.93 297.90,299.14 299.30,300.53 299.70,299.00 300.70,295.80 302.10,302.63 302.80,300.00 303.50,296.09 304.90,301.65 306.30,293.08 307.00,295.00 307.70,299.52 309.10,293.66 310.50,301.97 311.90,295.05 313.30,300.92 314.00,300.00 314.70,297.73 316.10,304.23 317.50,297.79 318.00,300.00 318.90,297.68 320.30,287.34 321.30,285.70 321.70,288.68 323.10,285.15 324.50,293.09 325.90,290.79 326.00,292.80 327.30,297.80 328.70,295.61 330.10,305.21 330.90,302.40 331.50,297.48 332.90,304.88 334.30,299.87 335.70,304.19 336.90,300.00 337.10,296.90 338.50,307.28 339.90,303.80 341.30,309.87 341.70,309.60 342.70,299.74 344.10,295.05 345.50,280.64 346.40,278.50 346.90,284.44 348.30,283.62 349.70,296.17 351.10,295.68 351.20,297.60 352.50,299.53 353.90,289.54 355.30,293.23 356.00,288.00 356.70,284.91 358.10,294.79 359.50,286.84 360.80,292.80 360.90,293.55 362.30,288.18 363.70,288.58 365.10,281.17 365.60,280.90 366.50,283.95 367.90,277.03 369.30,282.85 370.70,276.26 371.50,278.50 372.10,278.02 373.50,265.98 374.90,268.67 376.30,258.54 376.30,259.40 377.70,263.83 379.10,262.48 380.50,269.00 380.50,270.97 380.50,278.50 380.50,274.33 379.10,283.37 377.70,278.70 376.30,284.74 376.30,283.30 374.90,285.47 373.50,297.59 372.10,296.01 371.50,300.00 370.70,304.69 369.30,306.47 369.20,309.60 367.90,310.89 366.50,303.25 365.10,307.68 363.70,301.40 363.20,304.80 362.30,309.78 360.90,309.04 359.50,316.80 358.10,316.62 357.20,321.60 356.70,325.42 355.30,318.05 353.90,319.44 352.50,313.20 352.40,316.80 351.10,323.25 349.70,318.71 348.30,325.18 346.90,322.12 346.40,326.30 345.50,328.68 344.10,320.13 342.70,322.74 341.70,319.20 341.30,316.85 339.90,332.94 338.50,332.40 338.10,338.30 337.10,335.83 335.70,328.37 334.50,326.30 334.30,328.45 332.90,330.15 331.50,338.27 330.90,338.30 330.10,329.94 328.70,327.66 327.30,316.60 326.00,312.00 325.90,313.83 324.50,308.31 323.10,317.22 321.70,313.48 320.30,318.89 319.00,316.40 318.90,312.47 317.50,318.23 316.10,312.75 314.70,317.73 314.10,314.00 313.30,308.85 311.90,317.38 310.50,309.17 309.40,311.60 309.10,314.14 307.70,308.71 306.30,312.80 304.90,308.79 304.60,311.60 303.50,316.13 302.10,312.34 300.70,319.15 299.80,315.20 299.30,313.89 298.00,314.00 297.90,315.78 296.50,311.62 295.40,315.20 295.10,316.52 293.70,313.38 292.30,319.23 291.60,317.10 290.90,316.84 289.50,324.70 288.10,321.08 287.80,324.80 286.70,330.51 285.30,329.86 284.90,332.40 283.90,332.87 282.50,327.76 281.10,330.56 281.00,326.70 279.70,323.65 278.30,328.21 276.90,323.60 276.30,324.80 275.50,325.84 274.10,321.09 272.70,324.99 271.30,319.80 270.50,322.80 269.90,326.88 268.50,321.78 267.10,330.02 265.70,326.48 264.80,330.50 264.30,332.02 262.90,329.64 261.50,336.89 261.00,332.40 260.10,336.08 258.70,347.40 258.10,349.60 257.30,345.06 255.90,343.24 254.50,332.16 253.30,332.40 253.10,336.12 251.70,329.75 250.30,334.37 249.50,332.40 248.90,327.04 247.50,332.48 246.10,327.96 245.70,328.60 244.70,331.33 243.30,326.13 241.90,332.67 241.80,330.50 240.50,326.54 239.50,326.30 239.10,329.10 237.70,322.42 236.30,330.25 235.90,328.00 234.90,325.07 233.50,333.68 232.10,330.04 231.40,331.70 230.70,337.33 229.30,336.13 228.70,338.90 227.90,345.20 226.50,342.24 225.10,349.35 225.10,347.80 223.70,342.52 222.40,344.20 222.30,348.12 220.90,347.35 219.70,353.20 219.50,355.09 218.10,337.76 217.00,331.70 216.70,333.40 215.30,328.63 213.90,332.68 213.50,328.00 212.50,324.99 211.10,333.76 209.70,328.82 209.00,331.70 208.30,336.47 206.90,330.86 205.50,336.55 204.40,333.50 204.10,332.88 202.70,337.80 201.30,333.78 200.00,337.00 199.90,340.85 198.50,333.08 197.10,335.68 196.40,331.70 195.70,329.28 194.30,333.56 192.90,325.45 192.80,330.00 191.50,334.45 190.10,334.10 189.00,337.00 188.70,340.78 187.30,330.48 185.90,335.02 185.60,331.70" fill="#4b7ac6"/>
<polyline points="184.50,324.00 185.50,333.00 185.90,333.48 187.00,322.00 187.30,322.08 188.00,336.00 188.70,332.24 189.50,316.00 190.10,322.36 190.60,342.50 191.50,339.62 192.90,314.40 194.30,328.12 194.50,326.00 195.60,329.80 195.70,326.56 197.00,320.00 197.10,325.91 198.00,328.00 198.50,328.25 199.70,337.00 199.90,336.58 201.10,312.10 201.30,312.78 202.70,330.64 203.00,330.00 204.00,322.00 204.10,321.50 205.20,340.70 205.50,340.25 206.90,319.35 207.50,315.00 208.30,312.13 209.30,295.30 209.70,296.73 211.00,318.00 211.10,323.66 212.50,324.71 212.60,329.50 213.90,325.81 214.70,312.60 215.30,313.40 216.40,328.60 216.70,328.35 218.00,317.00 218.10,316.82 219.50,326.00 220.50,312.60 220.90,312.92 222.20,331.90 222.30,332.11 223.70,315.56 224.00,318.00 225.10,322.67 225.60,312.60 226.50,312.20 227.50,330.00 227.90,339.77 229.30,335.93 229.80,348.00 230.70,344.93 232.00,330.00 232.10,324.77 233.50,322.00 233.50,324.81 234.90,304.51 236.00,302.40 236.30,310.92 237.70,312.77 238.00,320.00 239.10,319.29 239.50,314.00 240.50,309.15 241.40,310.50 241.90,319.55 243.30,320.77 244.00,330.00 244.70,339.47 245.90,344.50 246.10,337.29 247.50,336.44 248.60,317.60 248.90,318.40 250.30,337.46 250.40,337.30 251.70,327.51 252.50,328.00 253.10,335.30 253.50,335.00 254.50,329.60 255.00,330.00 255.90,337.40 256.50,338.00 257.30,328.47 258.00,328.00 258.70,333.11 259.50,333.00 260.10,321.34 261.50,316.71 262.00,306.90 262.90,310.76 264.30,338.63 264.70,339.10 265.70,321.73 266.50,320.00 267.10,327.87 267.50,326.00 268.50,314.30 269.20,312.30 269.90,322.29 271.00,321.00 271.30,315.16 272.50,314.00 272.70,320.43 274.00,320.00 274.10,312.79 274.80,297.10 275.50,307.93 276.90,311.58 277.00,315.00 278.30,315.55 279.00,310.00 279.70,308.84 281.10,329.30 282.50,311.10 283.90,312.91 284.60,300.70 285.30,301.86 286.70,318.01 287.30,316.80 288.10,306.52 289.00,308.00 289.50,312.64 290.90,312.92 291.00,316.00 292.30,304.66 293.60,286.30 293.70,286.42 295.10,297.16 296.30,300.70 296.50,296.86 297.90,299.53 298.50,292.00 299.30,291.76 300.00,298.00 300.70,298.83 301.70,281.00 302.10,281.89 303.50,298.42 304.90,294.84 305.30,304.30 306.30,304.80 307.70,294.33 308.00,295.00 309.10,311.20 310.50,307.24 310.60,315.00 311.90,310.02 313.30,293.50 314.70,305.68 315.00,305.00 316.10,299.19 316.50,300.00 317.50,319.86 318.70,327.00 318.90,317.72 320.30,308.47 321.50,286.50 321.70,286.65 323.10,302.40 323.50,302.00 324.50,293.20 325.00,294.00 325.90,299.95 327.30,290.78 327.60,291.00 328.70,306.03 330.00,305.00 330.10,297.48 331.50,310.99 332.40,312.00 332.90,305.46 334.00,300.00 334.30,306.63 335.70,298.67 336.00,308.00 337.10,309.53 338.10,296.80 338.50,296.32 339.90,315.80 340.00,316.00 341.30,301.15 342.70,296.09 342.90,291.00 344.10,301.06 344.50,308.00 345.50,320.68 346.70,321.70 346.90,312.25 348.30,300.68 348.60,293.00 349.70,296.17 350.50,307.00 351.10,305.80 352.50,291.07 353.40,289.10 353.90,298.90 355.00,298.00 355.30,288.03 356.60,279.50 356.70,285.57 358.10,286.09 359.50,300.00 360.90,289.76 361.00,290.00 362.30,298.40 363.00,298.00 363.70,286.42 364.90,273.80 365.10,276.41 366.50,271.76 366.70,271.10 367.90,289.23 369.10,290.30 369.30,282.92 370.70,284.62 371.00,275.00 372.00,280.00 372.10,275.08 373.30,259.20 373.50,266.90 374.50,281.90 374.90,271.15 376.30,272.07 377.50,252.00 377.70,252.93 379.10,267.36 379.90,271.10 380.50,266.00" fill="none" stroke="#e02430" stroke-width="2.3" stroke-linejoin="miter" stroke-miterlimit="2.5"/>
<rect x="171" y="323" width="209" height="2" fill="#3a6cb4" opacity="0.85"/>
<rect x="170" y="249" width="1" height="152" fill="#6e5058"/>
<rect x="380" y="249" width="1" height="152" fill="#6e5058"/>
<rect x="168" y="398" width="213" height="1" fill="#6e5058"/>
<rect x="168" y="249" width="2" height="1" fill="#54464a"/>
<rect x="381" y="249" width="3" height="1" fill="#54464a"/>
<rect x="168" y="256" width="2" height="1" fill="#54464a"/>
<rect x="381" y="256" width="3" height="1" fill="#54464a"/>
<rect x="168" y="264" width="2" height="1" fill="#54464a"/>
<rect x="381" y="264" width="3" height="1" fill="#54464a"/>
<rect x="168" y="271" width="2" height="1" fill="#54464a"/>
<rect x="381" y="271" width="3" height="1" fill="#54464a"/>
<rect x="168" y="279" width="2" height="1" fill="#54464a"/>
<rect x="381" y="279" width="3" height="1" fill="#54464a"/>
<rect x="168" y="286" width="2" height="1" fill="#54464a"/>
<rect x="381" y="286" width="3" height="1" fill="#54464a"/>
<rect x="168" y="294" width="2" height="1" fill="#54464a"/>
<rect x="381" y="294" width="3" height="1" fill="#54464a"/>
<rect x="168" y="301" width="2" height="1" fill="#54464a"/>
<rect x="381" y="301" width="3" height="1" fill="#54464a"/>
<rect x="168" y="309" width="2" height="1" fill="#54464a"/>
<rect x="381" y="309" width="3" height="1" fill="#54464a"/>
<rect x="168" y="316" width="2" height="1" fill="#54464a"/>
<rect x="381" y="316" width="3" height="1" fill="#54464a"/>
<rect x="168" y="323" width="2" height="1" fill="#54464a"/>
<rect x="381" y="323" width="3" height="1" fill="#54464a"/>
<rect x="168" y="331" width="2" height="1" fill="#54464a"/>
<rect x="381" y="331" width="3" height="1" fill="#54464a"/>
<rect x="168" y="338" width="2" height="1" fill="#54464a"/>
<rect x="381" y="338" width="3" height="1" fill="#54464a"/>
<rect x="168" y="346" width="2" height="1" fill="#54464a"/>
<rect x="381" y="346" width="3" height="1" fill="#54464a"/>
<rect x="168" y="353" width="2" height="1" fill="#54464a"/>
<rect x="381" y="353" width="3" height="1" fill="#54464a"/>
<rect x="168" y="361" width="2" height="1" fill="#54464a"/>
<rect x="381" y="361" width="3" height="1" fill="#54464a"/>
<rect x="168" y="368" width="2" height="1" fill="#54464a"/>
<rect x="381" y="368" width="3" height="1" fill="#54464a"/>
<rect x="168" y="376" width="2" height="1" fill="#54464a"/>
<rect x="381" y="376" width="3" height="1" fill="#54464a"/>
<rect x="168" y="383" width="2" height="1" fill="#54464a"/>
<rect x="381" y="383" width="3" height="1" fill="#54464a"/>
<rect x="168" y="391" width="2" height="1" fill="#54464a"/>
<rect x="381" y="391" width="3" height="1" fill="#54464a"/>
<rect x="168" y="398" width="2" height="1" fill="#54464a"/>
<rect x="381" y="398" width="3" height="1" fill="#54464a"/>
<text x="164.1" y="252.4" text-anchor="end" font-size="8.9" fill="#3a3030" stroke="#3a3030" stroke-width="0.15" textLength="10.0" lengthAdjust="spacingAndGlyphs">1.0</text>
<text x="399" y="252.4" text-anchor="end" font-size="8.9" fill="#3a3030" stroke="#3a3030" stroke-width="0.15" textLength="10.0" lengthAdjust="spacingAndGlyphs">1.0</text>
<text x="164.1" y="289.6" text-anchor="end" font-size="8.9" fill="#3a3030" stroke="#3a3030" stroke-width="0.15" textLength="10.0" lengthAdjust="spacingAndGlyphs">0.5</text>
<text x="399" y="289.6" text-anchor="end" font-size="8.9" fill="#3a3030" stroke="#3a3030" stroke-width="0.15" textLength="10.0" lengthAdjust="spacingAndGlyphs">0.5</text>
<text x="164.1" y="326.9" text-anchor="end" font-size="8.9" fill="#3a3030" stroke="#3a3030" stroke-width="0.15" textLength="10.0" lengthAdjust="spacingAndGlyphs">0.0</text>
<text x="399" y="326.9" text-anchor="end" font-size="8.9" fill="#3a3030" stroke="#3a3030" stroke-width="0.15" textLength="10.0" lengthAdjust="spacingAndGlyphs">0.0</text>
<text x="164.1" y="364.1" text-anchor="end" font-size="8.9" fill="#3a3030" stroke="#3a3030" stroke-width="0.15" textLength="13.4" lengthAdjust="spacingAndGlyphs">-0.5</text>
<text x="399" y="364.1" text-anchor="end" font-size="8.9" fill="#3a3030" stroke="#3a3030" stroke-width="0.15" textLength="13.4" lengthAdjust="spacingAndGlyphs">-0.5</text>
<text x="164.1" y="401.4" text-anchor="end" font-size="8.9" fill="#3a3030" stroke="#3a3030" stroke-width="0.15" textLength="13.4" lengthAdjust="spacingAndGlyphs">-1.0</text>
<text x="399" y="401.4" text-anchor="end" font-size="8.9" fill="#3a3030" stroke="#3a3030" stroke-width="0.15" textLength="13.4" lengthAdjust="spacingAndGlyphs">-1.0</text>
<rect x="170" y="399" width="1" height="2" fill="#6e5058"/>
<text x="170.5" y="409.8" text-anchor="middle" font-size="8.9" fill="#3a3030" stroke="#3a3030" stroke-width="0.15" textLength="16.4" lengthAdjust="spacingAndGlyphs">1850</text>
<rect x="240" y="399" width="1" height="2" fill="#6e5058"/>
<text x="240.5" y="409.8" text-anchor="middle" font-size="8.9" fill="#3a3030" stroke="#3a3030" stroke-width="0.15" textLength="16.4" lengthAdjust="spacingAndGlyphs">1900</text>
<rect x="310" y="399" width="1" height="2" fill="#6e5058"/>
<text x="310.5" y="409.8" text-anchor="middle" font-size="8.9" fill="#3a3030" stroke="#3a3030" stroke-width="0.15" textLength="16.4" lengthAdjust="spacingAndGlyphs">1950</text>
<rect x="380" y="399" width="1" height="2" fill="#6e5058"/>
<text x="380.5" y="409.8" text-anchor="middle" font-size="8.9" fill="#3a3030" stroke="#3a3030" stroke-width="0.15" textLength="16.4" lengthAdjust="spacingAndGlyphs">2000</text>
<text x="153.4" y="239.8" font-size="8.7" font-weight="bold" fill="#3e3434" stroke="#3e3434" stroke-width="0.25" textLength="105.5" lengthAdjust="spacingAndGlyphs">Temperature anomalies in °C</text>
<text x="177.4" y="263.5" font-size="10.5" font-weight="bold" fill="#c07c5a" stroke="#c07c5a" stroke-width="0.4" textLength="162.5" lengthAdjust="spacingAndGlyphs">(c) Natural + Anthropogenic forcing</text>
<rect x="303.9" y="369.4" width="10.6" height="4.8" fill="#4b7ac6"/>
<rect x="303.9" y="384.4" width="10.6" height="2.0" fill="#e02430"/>
<rect x="303.9" y="383.0" width="10.6" height="1" fill="#f0a890" opacity="0.5"/>
<rect x="303.9" y="386.2" width="10.6" height="1" fill="#f0b8a8" opacity="0.5"/>
<text x="321.4" y="374.79999999999995" font-size="9.4" fill="#3a3030" stroke="#3a3030" stroke-width="0.2" textLength="46" lengthAdjust="spacingAndGlyphs">Model results</text>
<text x="321.4" y="388.09999999999997" font-size="9.4" fill="#3a3030" stroke="#3a3030" stroke-width="0.2" textLength="46" lengthAdjust="spacingAndGlyphs">Observations</text>
<ellipse cx="15.65" cy="407.2" rx="5.7" ry="5.3" fill="#cfdcf2" stroke="#3f70c0" stroke-width="2"/><ellipse cx="15.65" cy="407.4" rx="3.3" ry="3.0" fill="#4a7cc8"/>
<text x="15.65" y="418.8" text-anchor="middle" style="font-family:'Liberation Serif',serif;font-size:5.6px;font-weight:bold" fill="#5a82c4" textLength="13" lengthAdjust="spacingAndGlyphs">UNEP</text>
<rect x="28.6" y="403.6" width="30.1" height="7.2" fill="#cad8f0"/>
<text x="43.65" y="410.3" text-anchor="middle" style="font-family:'Liberation Serif',serif;font-size:8px;font-weight:bold" fill="#3560b0" textLength="28.5" lengthAdjust="spacing">GRID</text>
<text x="44.2" y="417" text-anchor="middle" style="font-family:'Liberation Serif',serif;font-size:5.2px;font-weight:bold" fill="#2a50a0" textLength="29" lengthAdjust="spacing">Arendal</text>
<text x="522" y="412" text-anchor="middle" font-size="3.6" fill="#444" textLength="37" lengthAdjust="spacingAndGlyphs">PHILIPPE REKACEWICZ</text>
<rect x="503" y="413.2" width="38" height="0.6" fill="#999" opacity="0.8"/>
<text x="522" y="417" text-anchor="middle" font-size="3.3" fill="#444" textLength="16" lengthAdjust="spacingAndGlyphs">JUNE 2001</text>

</svg></body></html>
